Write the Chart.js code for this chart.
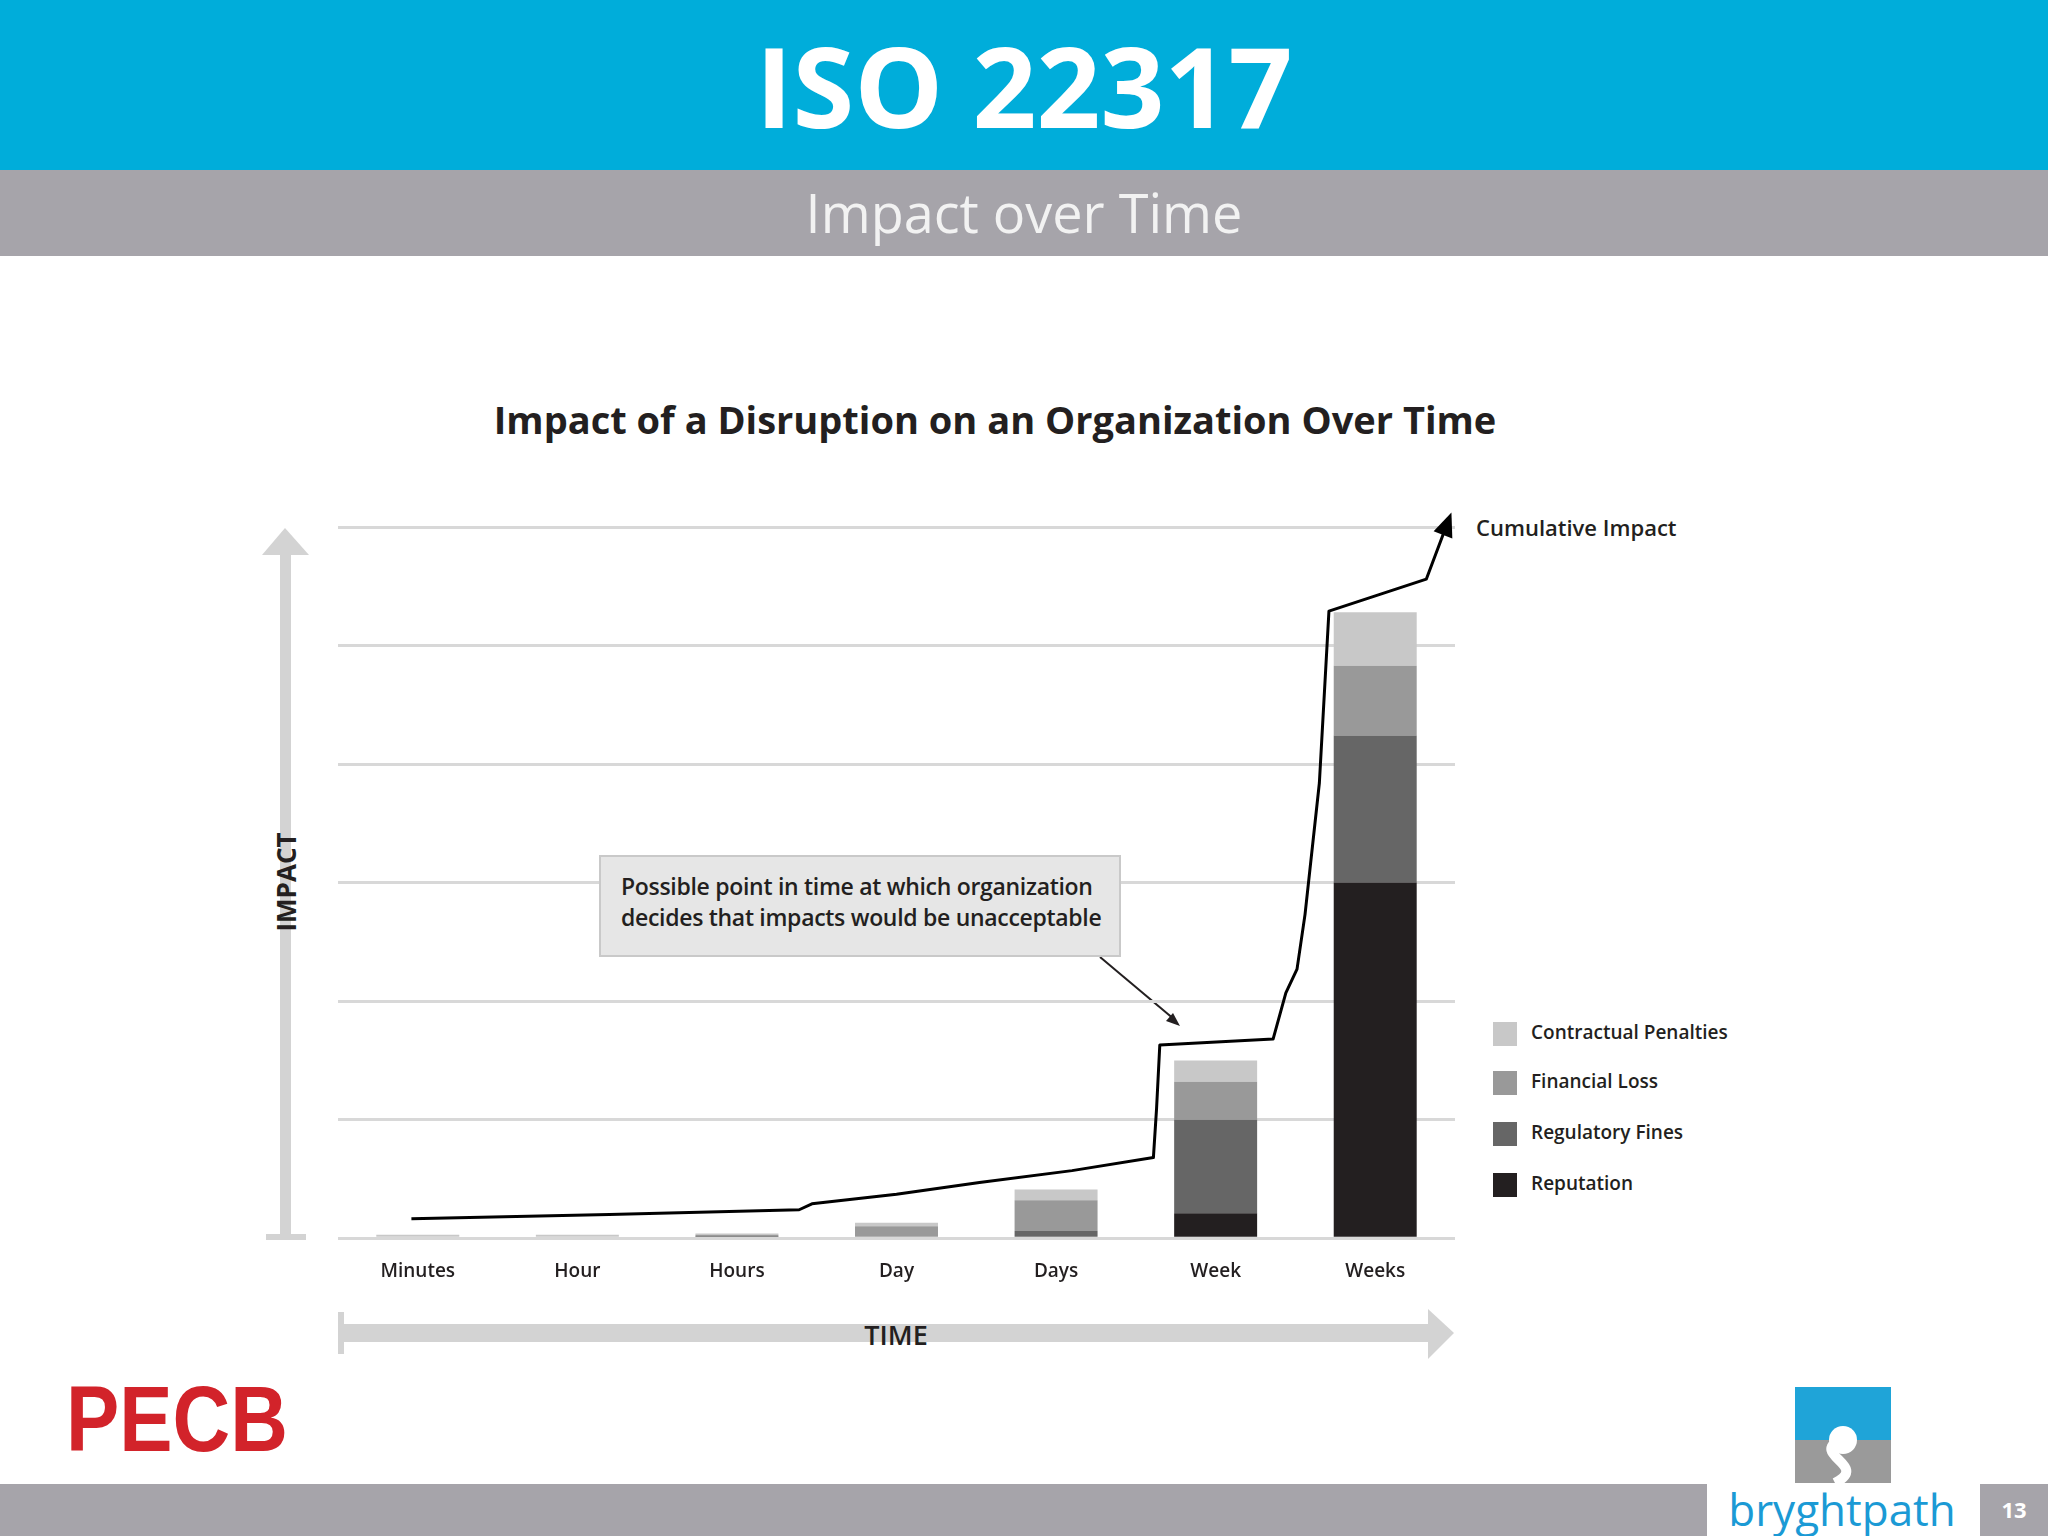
<!DOCTYPE html>
<html><head><meta charset="utf-8">
<script src="https://cdn.jsdelivr.net/npm/chart.js@4/dist/chart.umd.min.js"></script>
<style>
body{margin:0;width:2048px;height:1536px;position:relative;background:#fff;font-family:"Open Sans",sans-serif;overflow:hidden}
.abs{position:absolute}
#hdr{left:0;top:0;width:2048px;height:170px;background:#00ADDA;color:#fff;font-weight:bold;font-size:112px;text-align:center;line-height:170px}
#sub{left:0;top:170px;width:2048px;height:86px;background:#A6A4AA;color:#F2F2F2;font-size:54px;text-align:center;line-height:84px}
#ct{left:0;width:1990px;top:393px;text-align:center;font-size:38px;font-weight:bold;color:#231f20}
.leg{left:1493px;font-size:19px;color:#231f20;font-weight:600;height:26px;line-height:26px}
.leg span{display:inline-block;width:24px;height:24px;vertical-align:middle;margin-right:14px}
#box{left:599px;top:855px;width:522px;height:102px;background:#E6E6E6;border:2px solid #c9c9c9;box-sizing:border-box;font-size:23px;font-weight:600;color:#231f20;padding:14px 0 0 20px;line-height:31px;letter-spacing:-0.3px;z-index:5}
</style></head><body>
<div id="hdr" class="abs">ISO 22317</div>
<div id="sub" class="abs">Impact over Time</div>
<div id="ct" class="abs">Impact of a Disruption on an Organization Over Time</div>
<svg class="abs" style="left:0;top:0" width="2048" height="1536">
 <rect x="280" y="550" width="11" height="688" fill="#D3D3D3"/>
 <polygon points="262,555 285,528 309,555" fill="#D3D3D3"/>
 <rect x="266" y="1234" width="40" height="6" fill="#D3D3D3"/>
 <rect x="338" y="1324" width="1096" height="18" fill="#D3D3D3"/>
 <rect x="338" y="1312" width="6" height="42" fill="#D3D3D3"/>
 <polygon points="1428,1309 1454,1333 1428,1359" fill="#D3D3D3"/>
 <line x1="1100" y1="957" x2="1175" y2="1020" stroke="#231f20" stroke-width="2"/>
 <polygon points="1180,1026 1166,1021 1173,1013" fill="#231f20"/>
 <rect x="1707" y="1484" width="273" height="52" fill="#fff"/>
 <rect x="0" y="1484" width="1707" height="52" fill="#A6A4AA"/>
 <rect x="1980" y="1484" width="68" height="52" fill="#A6A4AA"/>
 <text x="2014" y="1518" fill="#fff" font-size="22" font-weight="bold" text-anchor="middle">13</text>
 <rect x="1795" y="1387" width="96" height="96" fill="#1FA4D8"/>
 <path d="M1795 1440 L1891 1440 L1891 1483 L1795 1483Z" fill="#9a9a9a"/>
 <path d="M1840 1440 C1810 1455 1870 1465 1835 1483" stroke="#fff" stroke-width="10" fill="none"/>
 <circle cx="1843" cy="1440" r="14" fill="#fff"/>
 <text x="1842" y="1526" fill="#1B9AD5" font-size="44" text-anchor="middle" font-family="Open Sans">bryghtpath</text>
 <text x="66" y="1451" fill="#D2232A" font-size="92" font-weight="bold" font-family="Liberation Sans" textLength="222" lengthAdjust="spacingAndGlyphs">PECB</text>
 <text transform="translate(296,882) rotate(-90)" fill="#231f20" font-size="26" font-weight="bold" text-anchor="middle">IMPACT</text>
 <text x="896" y="1345" fill="#231f20" font-size="27" font-weight="600" text-anchor="middle">TIME</text>
</svg>
<div id="box" class="abs">Possible point in time at which organization<br>decides that impacts would be unacceptable</div>
<div class="abs" style="left:1476px;top:512px;font-size:22px;font-weight:600;color:#231f20">Cumulative Impact</div>
<div class="abs leg" style="top:1019px"><span style="background:#C8C8C8"></span>Contractual Penalties</div>
<div class="abs leg" style="top:1068px"><span style="background:#999"></span>Financial Loss</div>
<div class="abs leg" style="top:1119px"><span style="background:#666"></span>Regulatory Fines</div>
<div class="abs leg" style="top:1170px"><span style="background:#231F20"></span>Reputation</div>
<canvas id="c" class="abs" style="left:250px;top:480px"></canvas>
<script>
const categories=["Minutes","Hour","Hours","Day","Days","Week","Weeks"];
const reputation=[0,0,0,0,0,0.21,3.0];
const regulatoryFines=[0,0,0.01,0,0.06,0.79,1.24];
const financialLoss=[0,0,0.02,0.1,0.26,0.32,0.59];
const contractualPenalties=[0.03,0.03,0.01,0.03,0.09,0.18,0.45];
const cumulativeX=[-0.04,1.2,2.39,2.47,3.0,3.52,4.1,4.61,4.63,4.65,5.36,5.44,5.51,5.56,5.65,5.71,6.32,6.46];
const cumulativeY=[0.165,0.2,0.24,0.29,0.37,0.47,0.57,0.68,1.1,1.63,1.68,2.07,2.27,2.73,3.84,5.29,5.56,6.06];
const cv=document.getElementById('c');
cv.style.width='1300px';cv.style.height='900px';
const arrow={id:'arrow',afterDatasetsDraw(ch){
 const m=ch.getDatasetMeta(4).data;const p=m[m.length-1],q=m[m.length-2];
 const a=Math.atan2(p.y-q.y,p.x-q.x);const c=ch.ctx;c.save();c.fillStyle='#000';c.beginPath();
 c.moveTo(p.x+8*Math.cos(a),p.y+8*Math.sin(a));
 c.lineTo(p.x-16*Math.cos(a)+10*Math.sin(a),p.y-16*Math.sin(a)-10*Math.cos(a));
 c.lineTo(p.x-16*Math.cos(a)-10*Math.sin(a),p.y-16*Math.sin(a)+10*Math.cos(a));
 c.fill();c.restore();}};
const bd=(l,d,col)=>({type:'bar',label:l,data:d,backgroundColor:col,barPercentage:0.52,categoryPercentage:1,grouped:false,stack:'s',xAxisID:'x',order:2});
new Chart(cv,{data:{labels:categories,datasets:[
 bd('Reputation',reputation,'#231F20'),bd('Regulatory Fines',regulatoryFines,'#666666'),
 bd('Financial Loss',financialLoss,'#999999'),bd('Contractual Penalties',contractualPenalties,'#C8C8C8'),
 {type:'line',label:'Cumulative Impact',data:cumulativeX.map((x,i)=>({x,y:cumulativeY[i]})),xAxisID:'x2',borderColor:'#000',borderWidth:3,pointRadius:0,tension:0,borderJoinStyle:'round',order:1}
]},options:{responsive:false,animation:false,devicePixelRatio:1,
 layout:{padding:{left:88,top:47,right:95,bottom:83}},
 plugins:{legend:{display:false},tooltip:{enabled:false}},
 scales:{
  x:{stacked:true,grid:{display:false},border:{display:false},ticks:{color:'#231f20',font:{size:19,weight:'600',family:'Open Sans'},padding:14}},
  x2:{type:'linear',min:-0.5,max:6.5,display:false},
  y:{stacked:true,min:0,max:6,ticks:{display:false,stepSize:1},border:{display:false},grid:{color:'#D8D8D8',lineWidth:3,drawTicks:false}}
 }},plugins:[arrow]});
</script></body></html>
